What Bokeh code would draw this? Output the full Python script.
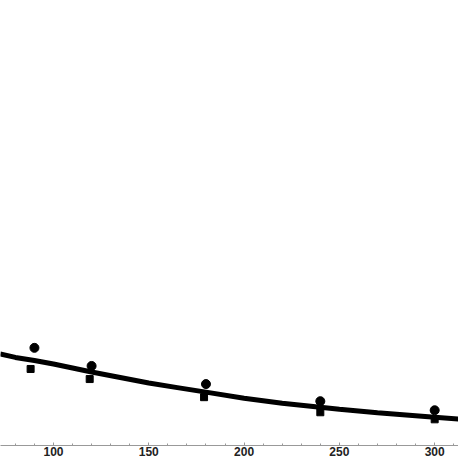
# Decay curve with two measured series (circles / squares)
from bokeh.plotting import figure
from bokeh.models import SingleIntervalTicker, Range1d
from bokeh.embed import file_html
from bokeh.resources import INLINE

# fitted curve
curve_x = [72, 80, 90, 100, 110, 120, 135, 150, 165, 180, 200, 220, 240, 250, 270, 300, 321]
curve_y = [0.91, 0.875, 0.845, 0.81, 0.77, 0.73, 0.675, 0.62, 0.575, 0.53, 0.47, 0.42, 0.38, 0.36, 0.325, 0.28, 0.25]

# measured points
circle_x = [90, 120, 180, 240, 300]
circle_y = [0.97, 0.79, 0.61, 0.44, 0.35]
square_x = [88, 119, 179, 240, 300]
square_y = [0.76, 0.66, 0.48, 0.33, 0.26]

p = figure(width=458, height=458, output_backend="svg", toolbar_location=None,
           x_range=Range1d(72.2, 312.5), y_range=Range1d(0, 4.42),
           min_border_left=0, min_border_right=0, min_border_top=0, min_border_bottom=0)

p.line(curve_x, curve_y, line_width=5, line_color="black")
p.scatter(circle_x, circle_y, marker="circle", size=9, color="black")
p.scatter(square_x, square_y, marker="square", size=7, color="black")

p.xgrid.visible = False
p.ygrid.visible = False
p.yaxis.visible = False
p.outline_line_color = None

ax = p.xaxis[0]
ax.ticker = SingleIntervalTicker(interval=50, num_minor_ticks=5)
ax.axis_line_color = "#999999"
ax.major_tick_line_color = "#999999"
ax.minor_tick_line_color = "#999999"
ax.major_tick_in = 3
ax.major_tick_out = 0
ax.minor_tick_in = 2
ax.minor_tick_out = 0
ax.major_label_text_font = "Liberation Sans"
ax.major_label_text_font_style = "bold"
ax.major_label_text_font_size = "12px"
ax.major_label_text_color = "#222222"
ax.major_label_standoff = 1

open("out.html", "w").write(file_html(p, INLINE))
